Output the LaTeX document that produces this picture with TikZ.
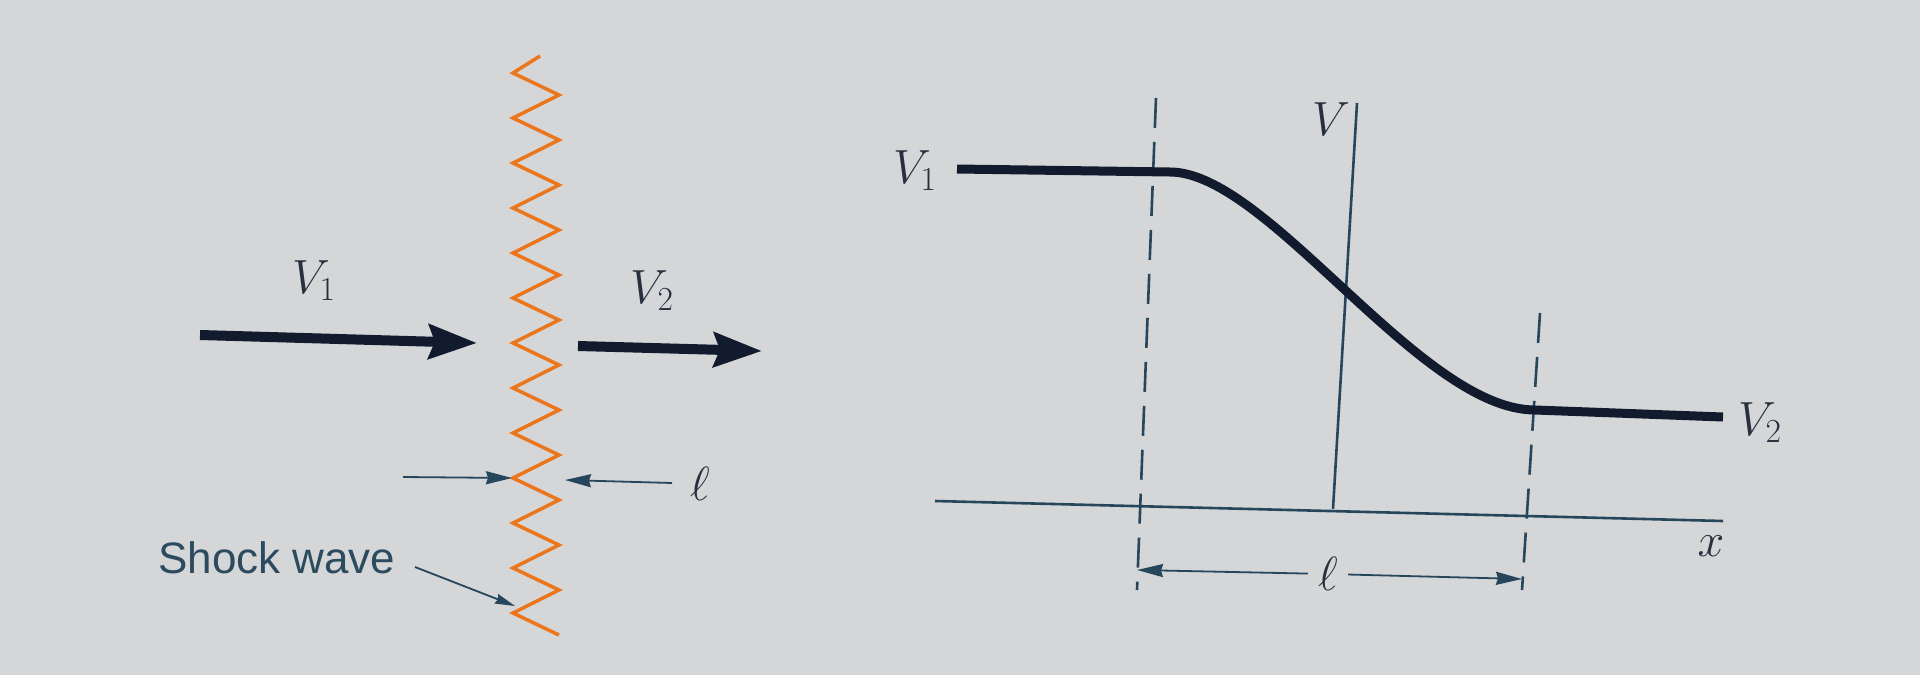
\RequirePackage{fix-cm}
\documentclass[tikz,border=0pt]{standalone}
\usepackage{fontspec}
\newfontfamily\swfont{Liberation Sans}
\usetikzlibrary{arrows.meta}
\definecolor{bgc}{RGB}{212,214,216}
\definecolor{ink}{RGB}{18,26,45}
\definecolor{thinc}{RGB}{38,70,92}
\definecolor{zig}{RGB}{236,118,28}
\definecolor{labc}{RGB}{40,48,62}
\definecolor{swc}{RGB}{45,75,95}
\begin{document}
\begin{tikzpicture}[x=1pt,y=-1pt,
  bigarrow/.style={line width=10pt, draw=ink, -{Stealth[length=48pt,width=34pt,inset=6pt]}},
  dimarrow/.style={line width=1.8pt, draw=thinc, -{Stealth[length=26pt,width=13pt,inset=2pt]}},
  leader/.style={line width=1.8pt, draw=thinc, -{Stealth[length=20pt,width=10pt,inset=2pt]}},
  lbl/.style={inner sep=0pt, text=labc, font=\fontsize{48}{50}\selectfont},
  dimlbl/.style={inner sep=10pt, text=labc, font=\fontsize{48}{50}\selectfont},
  axisline/.style={line width=2.6pt, draw=thinc},
  guide/.style={line width=2.6pt, draw=thinc, dash pattern=on 30pt off 14pt},
  curveline/.style={line width=9pt, draw=ink, line cap=butt, line join=round},
  zigline/.style={line width=3.5pt, draw=zig, line join=miter}]
\useasboundingbox (0,0) rectangle (1920,675);
\fill[bgc] (0,0) rectangle (1920,675);

% ---------- left panel ----------
% shock wave zigzag
\draw[zigline] (540,56) -- (513,73)
  \foreach \k in {0,...,11} { -- (559,{95+45*\k}) -- (513,{118+45*\k}) } -- (559,635);

% flow arrows
\coordinate (a1s) at (200,335);
\coordinate (a1e) at (477,343);
\coordinate (a2s) at (578,346);
\coordinate (a2e) at (762,351);
\draw[bigarrow] (a1s) -- (a1e);
\draw[bigarrow] (a2s) -- (a2e);
\node[lbl, anchor=base west] (lv1) at (292,293) {$V_1$};
\node[lbl, anchor=base west] (lv2) at (630,303) {$V_2$};

% thickness dimension
\coordinate (d1s) at (403,477);
\coordinate (d1e) at (512,478);
\coordinate (d2s) at (672,483);
\coordinate (d2e) at (565,480);
\draw[dimarrow] (d1s) -- (d1e);
\draw[dimarrow] (d2s) -- (d2e);
\node[lbl] (lell) at (700,484) {$\ell$};

% shock wave label
\node[inner sep=0pt, anchor=base west, text=swc, font=\swfont\fontsize{44}{46}\selectfont] (sw) at (158,573) {Shock wave};
\coordinate (sws) at (415,567);
\coordinate (swe) at (515,606);
\draw[leader] (sws) -- (swe);

% ---------- right panel ----------
\coordinate (gl1) at (1156,98);
\coordinate (gl2) at (1137,590);
\coordinate (gr1) at (1540,313);
\coordinate (gr2) at (1522,590);
\draw[guide] (gl1) -- (gl2);
\draw[guide] (gr1) -- (gr2);

% axes
\coordinate (xa1) at (935,501);
\coordinate (xa2) at (1723,521);
\coordinate (va1) at (1357,103);
\coordinate (va2) at (1333,509);
\draw[axisline] (xa1) -- (xa2);
\draw[axisline] (va1) -- (va2);
\node[lbl] (lx) at (1711,546) {$x$};
\node[lbl, anchor=base west] (lV) at (1312,135) {$V$};

% velocity profile
\coordinate (c0) at (957,169);
\coordinate (c1) at (1170,172);
\coordinate (c2) at (1535,410);
\coordinate (c3) at (1723,417);
\draw[curveline] (c0) -- (c1)
  .. controls (1268,172) and (1420,410) .. (c2) -- (c3);
\node[lbl, anchor=base west] (rv1) at (893,183) {$V_1$};
\node[lbl, anchor=base west] (rv2) at (1738,435) {$V_2$};

% shock thickness dimension
\coordinate (tl) at (1137,570);
\coordinate (tr) at (1522,579);
\node[dimlbl] (rell) at (1328,574) {$\ell$};
\draw[dimarrow] (rell) -- (tl);
\draw[dimarrow] (rell) -- (tr);
\end{tikzpicture}
\end{document}
